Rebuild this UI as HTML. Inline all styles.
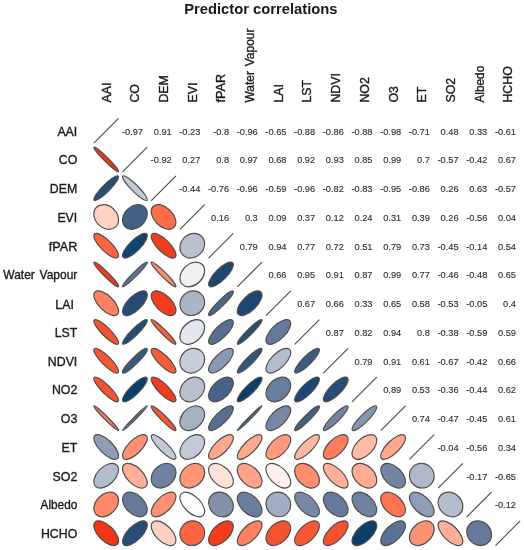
<!DOCTYPE html>
<html><head><meta charset="utf-8"><title>Predictor correlations</title>
<style>html,body{margin:0;padding:0;background:#fff}svg{display:block}text{font-family:"Liberation Sans",Arial,sans-serif;fill:#1a1a1a;stroke:#1a1a1a;stroke-width:0.35}svg{filter:blur(0.45px)}.n{text-anchor:end;font-size:9.25px;fill:#2e2e2e;stroke:#2e2e2e;stroke-width:0.12}</style></head><body>
<svg width="524" height="550" viewBox="0 0 524 550">
<rect width="524" height="550" fill="#fff"/>
<text x="260.85" y="14.20" text-anchor="middle" font-weight="bold" style="stroke-width:0" font-size="14.75">Predictor correlations</text>
<text x="77.31" y="135.60" text-anchor="end" font-size="12.35">AAI</text>
<text x="77.31" y="164.35" text-anchor="end" font-size="12.35">CO</text>
<text x="77.31" y="193.10" text-anchor="end" font-size="12.35">DEM</text>
<text x="77.31" y="221.85" text-anchor="end" font-size="12.35">EVI</text>
<text x="77.31" y="250.60" text-anchor="end" font-size="12.35" textLength="28.60" lengthAdjust="spacingAndGlyphs">fPAR</text>
<text x="77.31" y="278.75" text-anchor="end" font-size="12.35" textLength="74.00" lengthAdjust="spacingAndGlyphs" word-spacing="1.50">Water Vapour</text>
<text x="77.31" y="308.60" text-anchor="end" font-size="12.35">LAI&#160;</text>
<text x="77.31" y="336.85" text-anchor="end" font-size="12.35">LST</text>
<text x="77.31" y="365.60" text-anchor="end" font-size="12.35">NDVI</text>
<text x="77.31" y="394.35" text-anchor="end" font-size="12.35">NO2</text>
<text x="77.31" y="423.10" text-anchor="end" font-size="12.35">O3</text>
<text x="77.31" y="451.85" text-anchor="end" font-size="12.35">ET</text>
<text x="77.31" y="480.60" text-anchor="end" font-size="12.35">SO2</text>
<text x="77.31" y="509.35" text-anchor="end" font-size="12.35" textLength="36.80" lengthAdjust="spacingAndGlyphs">Albedo</text>
<text x="77.31" y="538.10" text-anchor="end" font-size="12.35">HCHO</text>
<text transform="translate(110.60 102.55) rotate(-90)" font-size="12.35">AAI</text>
<text transform="translate(139.29 102.55) rotate(-90)" font-size="12.35">CO</text>
<text transform="translate(167.98 102.55) rotate(-90)" font-size="12.35">DEM</text>
<text transform="translate(196.67 102.55) rotate(-90)" font-size="12.35">EVI</text>
<text transform="translate(225.36 102.55) rotate(-90)" font-size="12.35" textLength="28.60" lengthAdjust="spacingAndGlyphs">fPAR</text>
<text transform="translate(254.05 102.55) rotate(-90)" font-size="12.35" textLength="74.00" lengthAdjust="spacingAndGlyphs" word-spacing="1.50">Water Vapour</text>
<text transform="translate(282.74 102.55) rotate(-90)" font-size="12.35">LAI&#160;</text>
<text transform="translate(311.43 102.55) rotate(-90)" font-size="12.35">LST</text>
<text transform="translate(340.12 102.55) rotate(-90)" font-size="12.35">NDVI</text>
<text transform="translate(368.81 102.55) rotate(-90)" font-size="12.35">NO2</text>
<text transform="translate(397.50 102.55) rotate(-90)" font-size="12.35">O3</text>
<text transform="translate(426.19 102.55) rotate(-90)" font-size="12.35">ET</text>
<text transform="translate(454.88 102.55) rotate(-90)" font-size="12.35">SO2</text>
<text transform="translate(483.57 102.55) rotate(-90)" font-size="12.35" textLength="36.80" lengthAdjust="spacingAndGlyphs">Albedo</text>
<text transform="translate(512.26 102.55) rotate(-90)" font-size="12.35">HCHO</text>
<text class="n" x="143.01" y="134.60">-0.97</text>
<text class="n" x="171.70" y="134.60">0.91</text>
<text class="n" x="200.39" y="134.60">-0.23</text>
<text class="n" x="229.08" y="134.60">-0.8</text>
<text class="n" x="257.77" y="134.60">-0.96</text>
<text class="n" x="286.46" y="134.60">-0.65</text>
<text class="n" x="315.15" y="134.60">-0.88</text>
<text class="n" x="343.84" y="134.60">-0.86</text>
<text class="n" x="372.53" y="134.60">-0.88</text>
<text class="n" x="401.22" y="134.60">-0.98</text>
<text class="n" x="429.91" y="134.60">-0.71</text>
<text class="n" x="458.60" y="134.60">0.48</text>
<text class="n" x="487.29" y="134.60">0.33</text>
<text class="n" x="515.98" y="134.60">-0.61</text>
<text class="n" x="171.70" y="163.35">-0.92</text>
<text class="n" x="200.39" y="163.35">0.27</text>
<text class="n" x="229.08" y="163.35">0.8</text>
<text class="n" x="257.77" y="163.35">0.97</text>
<text class="n" x="286.46" y="163.35">0.68</text>
<text class="n" x="315.15" y="163.35">0.92</text>
<text class="n" x="343.84" y="163.35">0.93</text>
<text class="n" x="372.53" y="163.35">0.85</text>
<text class="n" x="401.22" y="163.35">0.99</text>
<text class="n" x="429.91" y="163.35">0.7</text>
<text class="n" x="458.60" y="163.35">-0.57</text>
<text class="n" x="487.29" y="163.35">-0.42</text>
<text class="n" x="515.98" y="163.35">0.67</text>
<text class="n" x="200.39" y="192.10">-0.44</text>
<text class="n" x="229.08" y="192.10">-0.76</text>
<text class="n" x="257.77" y="192.10">-0.96</text>
<text class="n" x="286.46" y="192.10">-0.59</text>
<text class="n" x="315.15" y="192.10">-0.96</text>
<text class="n" x="343.84" y="192.10">-0.82</text>
<text class="n" x="372.53" y="192.10">-0.83</text>
<text class="n" x="401.22" y="192.10">-0.95</text>
<text class="n" x="429.91" y="192.10">-0.86</text>
<text class="n" x="458.60" y="192.10">0.26</text>
<text class="n" x="487.29" y="192.10">0.63</text>
<text class="n" x="515.98" y="192.10">-0.57</text>
<text class="n" x="229.08" y="220.85">0.16</text>
<text class="n" x="257.77" y="220.85">0.3</text>
<text class="n" x="286.46" y="220.85">0.09</text>
<text class="n" x="315.15" y="220.85">0.37</text>
<text class="n" x="343.84" y="220.85">0.12</text>
<text class="n" x="372.53" y="220.85">0.24</text>
<text class="n" x="401.22" y="220.85">0.31</text>
<text class="n" x="429.91" y="220.85">0.39</text>
<text class="n" x="458.60" y="220.85">0.26</text>
<text class="n" x="487.29" y="220.85">-0.56</text>
<text class="n" x="515.98" y="220.85">0.04</text>
<text class="n" x="257.77" y="249.60">0.79</text>
<text class="n" x="286.46" y="249.60">0.94</text>
<text class="n" x="315.15" y="249.60">0.77</text>
<text class="n" x="343.84" y="249.60">0.72</text>
<text class="n" x="372.53" y="249.60">0.51</text>
<text class="n" x="401.22" y="249.60">0.79</text>
<text class="n" x="429.91" y="249.60">0.73</text>
<text class="n" x="458.60" y="249.60">-0.45</text>
<text class="n" x="487.29" y="249.60">-0.14</text>
<text class="n" x="515.98" y="249.60">0.54</text>
<text class="n" x="286.46" y="278.35">0.66</text>
<text class="n" x="315.15" y="278.35">0.95</text>
<text class="n" x="343.84" y="278.35">0.91</text>
<text class="n" x="372.53" y="278.35">0.87</text>
<text class="n" x="401.22" y="278.35">0.99</text>
<text class="n" x="429.91" y="278.35">0.77</text>
<text class="n" x="458.60" y="278.35">-0.46</text>
<text class="n" x="487.29" y="278.35">-0.48</text>
<text class="n" x="515.98" y="278.35">0.65</text>
<text class="n" x="315.15" y="307.10">0.67</text>
<text class="n" x="343.84" y="307.10">0.66</text>
<text class="n" x="372.53" y="307.10">0.33</text>
<text class="n" x="401.22" y="307.10">0.65</text>
<text class="n" x="429.91" y="307.10">0.58</text>
<text class="n" x="458.60" y="307.10">-0.53</text>
<text class="n" x="487.29" y="307.10">-0.05</text>
<text class="n" x="515.98" y="307.10">0.4</text>
<text class="n" x="343.84" y="335.85">0.87</text>
<text class="n" x="372.53" y="335.85">0.82</text>
<text class="n" x="401.22" y="335.85">0.94</text>
<text class="n" x="429.91" y="335.85">0.8</text>
<text class="n" x="458.60" y="335.85">-0.38</text>
<text class="n" x="487.29" y="335.85">-0.59</text>
<text class="n" x="515.98" y="335.85">0.59</text>
<text class="n" x="372.53" y="364.60">0.79</text>
<text class="n" x="401.22" y="364.60">0.91</text>
<text class="n" x="429.91" y="364.60">0.61</text>
<text class="n" x="458.60" y="364.60">-0.67</text>
<text class="n" x="487.29" y="364.60">-0.42</text>
<text class="n" x="515.98" y="364.60">0.66</text>
<text class="n" x="401.22" y="393.35">0.89</text>
<text class="n" x="429.91" y="393.35">0.53</text>
<text class="n" x="458.60" y="393.35">-0.36</text>
<text class="n" x="487.29" y="393.35">-0.44</text>
<text class="n" x="515.98" y="393.35">0.62</text>
<text class="n" x="429.91" y="422.10">0.74</text>
<text class="n" x="458.60" y="422.10">-0.47</text>
<text class="n" x="487.29" y="422.10">-0.45</text>
<text class="n" x="515.98" y="422.10">0.61</text>
<text class="n" x="458.60" y="450.85">-0.04</text>
<text class="n" x="487.29" y="450.85">-0.56</text>
<text class="n" x="515.98" y="450.85">0.34</text>
<text class="n" x="487.29" y="479.60">-0.17</text>
<text class="n" x="515.98" y="479.60">-0.65</text>
<text class="n" x="515.98" y="508.35">-0.12</text>
<line x1="93.85" y1="143.05" x2="118.55" y2="118.35" stroke="#4c4c4c" stroke-width="1.15"/>
<ellipse cx="106.20" cy="159.45" rx="2.14" ry="17.33" transform="rotate(-45 106.20 159.45)" fill="rgb(241,54,23)" stroke="#4c4c4c" stroke-width="1.15"/>
<line x1="122.54" y1="171.80" x2="147.24" y2="147.10" stroke="#4c4c4c" stroke-width="1.15"/>
<ellipse cx="106.20" cy="188.20" rx="17.07" ry="3.70" transform="rotate(-45 106.20 188.20)" fill="rgb(41,78,118)" stroke="#4c4c4c" stroke-width="1.15"/>
<ellipse cx="134.89" cy="188.20" rx="3.49" ry="17.11" transform="rotate(-45 134.89 188.20)" fill="rgb(194,202,215)" stroke="#4c4c4c" stroke-width="1.15"/>
<line x1="151.23" y1="200.55" x2="175.93" y2="175.85" stroke="#4c4c4c" stroke-width="1.15"/>
<ellipse cx="106.20" cy="216.95" rx="10.84" ry="13.70" transform="rotate(-45 106.20 216.95)" fill="rgb(255,209,194)" stroke="#4c4c4c" stroke-width="1.15"/>
<ellipse cx="134.89" cy="216.95" rx="13.92" ry="10.55" transform="rotate(-45 134.89 216.95)" fill="rgb(67,96,133)" stroke="#4c4c4c" stroke-width="1.15"/>
<ellipse cx="163.58" cy="216.95" rx="9.24" ry="14.82" transform="rotate(-45 163.58 216.95)" fill="rgb(254,109,74)" stroke="#4c4c4c" stroke-width="1.15"/>
<line x1="179.92" y1="229.30" x2="204.62" y2="204.60" stroke="#4c4c4c" stroke-width="1.15"/>
<ellipse cx="106.20" cy="245.70" rx="5.52" ry="16.57" transform="rotate(-45 106.20 245.70)" fill="rgb(252,100,66)" stroke="#4c4c4c" stroke-width="1.15"/>
<ellipse cx="134.89" cy="245.70" rx="16.57" ry="5.52" transform="rotate(-45 134.89 245.70)" fill="rgb(21,68,110)" stroke="#4c4c4c" stroke-width="1.15"/>
<ellipse cx="163.58" cy="245.70" rx="6.05" ry="16.38" transform="rotate(-45 163.58 245.70)" fill="rgb(242,60,28)" stroke="#4c4c4c" stroke-width="1.15"/>
<ellipse cx="192.27" cy="245.70" rx="13.30" ry="11.32" transform="rotate(-45 192.27 245.70)" fill="rgb(185,193,209)" stroke="#4c4c4c" stroke-width="1.15"/>
<line x1="208.61" y1="258.05" x2="233.31" y2="233.35" stroke="#4c4c4c" stroke-width="1.15"/>
<ellipse cx="106.20" cy="274.45" rx="2.47" ry="17.29" transform="rotate(-45 106.20 274.45)" fill="rgb(242,60,28)" stroke="#4c4c4c" stroke-width="1.15"/>
<ellipse cx="134.89" cy="274.45" rx="17.33" ry="2.14" transform="rotate(-45 134.89 274.45)" fill="rgb(96,118,151)" stroke="#4c4c4c" stroke-width="1.15"/>
<ellipse cx="163.58" cy="274.45" rx="2.47" ry="17.29" transform="rotate(-45 163.58 274.45)" fill="rgb(255,141,110)" stroke="#4c4c4c" stroke-width="1.15"/>
<ellipse cx="192.27" cy="274.45" rx="14.08" ry="10.33" transform="rotate(-45 192.27 274.45)" fill="rgb(238,240,244)" stroke="#4c4c4c" stroke-width="1.15"/>
<ellipse cx="220.96" cy="274.45" rx="16.52" ry="5.66" transform="rotate(-45 220.96 274.45)" fill="rgb(29,71,113)" stroke="#4c4c4c" stroke-width="1.15"/>
<line x1="237.30" y1="286.80" x2="262.00" y2="262.10" stroke="#4c4c4c" stroke-width="1.15"/>
<ellipse cx="106.20" cy="303.20" rx="7.31" ry="15.86" transform="rotate(-45 106.20 303.20)" fill="rgb(255,129,97)" stroke="#4c4c4c" stroke-width="1.15"/>
<ellipse cx="134.89" cy="303.20" rx="16.01" ry="6.99" transform="rotate(-45 134.89 303.20)" fill="rgb(35,75,115)" stroke="#4c4c4c" stroke-width="1.15"/>
<ellipse cx="163.58" cy="303.20" rx="7.91" ry="15.57" transform="rotate(-45 163.58 303.20)" fill="rgb(242,60,28)" stroke="#4c4c4c" stroke-width="1.15"/>
<ellipse cx="192.27" cy="303.20" rx="12.89" ry="11.78" transform="rotate(-45 192.27 303.20)" fill="rgb(171,181,199)" stroke="#4c4c4c" stroke-width="1.15"/>
<ellipse cx="220.96" cy="303.20" rx="17.20" ry="3.03" transform="rotate(-45 220.96 303.20)" fill="rgb(77,103,139)" stroke="#4c4c4c" stroke-width="1.15"/>
<ellipse cx="249.65" cy="303.20" rx="15.91" ry="7.20" transform="rotate(-45 249.65 303.20)" fill="rgb(29,71,113)" stroke="#4c4c4c" stroke-width="1.15"/>
<line x1="265.99" y1="315.55" x2="290.69" y2="290.85" stroke="#4c4c4c" stroke-width="1.15"/>
<ellipse cx="106.20" cy="331.95" rx="4.28" ry="16.93" transform="rotate(-45 106.20 331.95)" fill="rgb(247,82,48)" stroke="#4c4c4c" stroke-width="1.15"/>
<ellipse cx="134.89" cy="331.95" rx="17.11" ry="3.49" transform="rotate(-45 134.89 331.95)" fill="rgb(35,75,115)" stroke="#4c4c4c" stroke-width="1.15"/>
<ellipse cx="163.58" cy="331.95" rx="2.47" ry="17.29" transform="rotate(-45 163.58 331.95)" fill="rgb(251,96,61)" stroke="#4c4c4c" stroke-width="1.15"/>
<ellipse cx="192.27" cy="331.95" rx="14.45" ry="9.80" transform="rotate(-45 192.27 331.95)" fill="rgb(228,231,237)" stroke="#4c4c4c" stroke-width="1.15"/>
<ellipse cx="220.96" cy="331.95" rx="16.43" ry="5.92" transform="rotate(-45 220.96 331.95)" fill="rgb(87,110,145)" stroke="#4c4c4c" stroke-width="1.15"/>
<ellipse cx="249.65" cy="331.95" rx="17.25" ry="2.76" transform="rotate(-45 249.65 331.95)" fill="rgb(41,78,118)" stroke="#4c4c4c" stroke-width="1.15"/>
<ellipse cx="278.34" cy="331.95" rx="15.96" ry="7.09" transform="rotate(-45 278.34 331.95)" fill="rgb(101,122,154)" stroke="#4c4c4c" stroke-width="1.15"/>
<line x1="294.68" y1="344.30" x2="319.38" y2="319.60" stroke="#4c4c4c" stroke-width="1.15"/>
<ellipse cx="106.20" cy="360.70" rx="4.62" ry="16.84" transform="rotate(-45 106.20 360.70)" fill="rgb(249,87,52)" stroke="#4c4c4c" stroke-width="1.15"/>
<ellipse cx="134.89" cy="360.70" rx="17.16" ry="3.27" transform="rotate(-45 134.89 360.70)" fill="rgb(57,89,127)" stroke="#4c4c4c" stroke-width="1.15"/>
<ellipse cx="163.58" cy="360.70" rx="5.24" ry="16.66" transform="rotate(-45 163.58 360.70)" fill="rgb(250,91,57)" stroke="#4c4c4c" stroke-width="1.15"/>
<ellipse cx="192.27" cy="360.70" rx="13.07" ry="11.58" transform="rotate(-45 192.27 360.70)" fill="rgb(199,206,218)" stroke="#4c4c4c" stroke-width="1.15"/>
<ellipse cx="220.96" cy="360.70" rx="16.20" ry="6.53" transform="rotate(-45 220.96 360.70)" fill="rgb(138,153,178)" stroke="#4c4c4c" stroke-width="1.15"/>
<ellipse cx="249.65" cy="360.70" rx="17.07" ry="3.70" transform="rotate(-45 249.65 360.70)" fill="rgb(52,85,124)" stroke="#4c4c4c" stroke-width="1.15"/>
<ellipse cx="278.34" cy="360.70" rx="15.91" ry="7.20" transform="rotate(-45 278.34 360.70)" fill="rgb(180,189,206)" stroke="#4c4c4c" stroke-width="1.15"/>
<ellipse cx="307.03" cy="360.70" rx="16.89" ry="4.45" transform="rotate(-45 307.03 360.70)" fill="rgb(63,92,130)" stroke="#4c4c4c" stroke-width="1.15"/>
<line x1="323.37" y1="373.05" x2="348.07" y2="348.35" stroke="#4c4c4c" stroke-width="1.15"/>
<ellipse cx="106.20" cy="389.45" rx="4.28" ry="16.93" transform="rotate(-45 106.20 389.45)" fill="rgb(247,82,48)" stroke="#4c4c4c" stroke-width="1.15"/>
<ellipse cx="134.89" cy="389.45" rx="16.80" ry="4.78" transform="rotate(-45 134.89 389.45)" fill="rgb(12,64,107)" stroke="#4c4c4c" stroke-width="1.15"/>
<ellipse cx="163.58" cy="389.45" rx="5.09" ry="16.71" transform="rotate(-45 163.58 389.45)" fill="rgb(242,60,28)" stroke="#4c4c4c" stroke-width="1.15"/>
<ellipse cx="192.27" cy="389.45" rx="13.75" ry="10.77" transform="rotate(-45 192.27 389.45)" fill="rgb(185,193,209)" stroke="#4c4c4c" stroke-width="1.15"/>
<ellipse cx="220.96" cy="389.45" rx="15.18" ry="8.64" transform="rotate(-45 220.96 389.45)" fill="rgb(72,99,136)" stroke="#4c4c4c" stroke-width="1.15"/>
<ellipse cx="249.65" cy="389.45" rx="16.89" ry="4.45" transform="rotate(-45 249.65 389.45)" fill="rgb(12,64,107)" stroke="#4c4c4c" stroke-width="1.15"/>
<ellipse cx="278.34" cy="389.45" rx="14.24" ry="10.11" transform="rotate(-45 278.34 389.45)" fill="rgb(105,126,157)" stroke="#4c4c4c" stroke-width="1.15"/>
<ellipse cx="307.03" cy="389.45" rx="16.66" ry="5.24" transform="rotate(-45 307.03 389.45)" fill="rgb(29,71,113)" stroke="#4c4c4c" stroke-width="1.15"/>
<ellipse cx="335.72" cy="389.45" rx="16.52" ry="5.66" transform="rotate(-45 335.72 389.45)" fill="rgb(41,78,118)" stroke="#4c4c4c" stroke-width="1.15"/>
<line x1="352.06" y1="401.80" x2="376.76" y2="377.10" stroke="#4c4c4c" stroke-width="1.15"/>
<ellipse cx="106.20" cy="418.20" rx="1.75" ry="17.38" transform="rotate(-45 106.20 418.20)" fill="rgb(255,117,83)" stroke="#4c4c4c" stroke-width="1.15"/>
<ellipse cx="134.89" cy="418.20" rx="17.42" ry="1.23" transform="rotate(-45 134.89 418.20)" fill="rgb(91,114,148)" stroke="#4c4c4c" stroke-width="1.15"/>
<ellipse cx="163.58" cy="418.20" rx="2.76" ry="17.25" transform="rotate(-45 163.58 418.20)" fill="rgb(249,87,52)" stroke="#4c4c4c" stroke-width="1.15"/>
<ellipse cx="192.27" cy="418.20" rx="14.13" ry="10.26" transform="rotate(-45 192.27 418.20)" fill="rgb(166,177,196)" stroke="#4c4c4c" stroke-width="1.15"/>
<ellipse cx="220.96" cy="418.20" rx="16.52" ry="5.66" transform="rotate(-45 220.96 418.20)" fill="rgb(87,110,145)" stroke="#4c4c4c" stroke-width="1.15"/>
<ellipse cx="249.65" cy="418.20" rx="17.42" ry="1.23" transform="rotate(-45 249.65 418.20)" fill="rgb(77,103,139)" stroke="#4c4c4c" stroke-width="1.15"/>
<ellipse cx="278.34" cy="418.20" rx="15.86" ry="7.31" transform="rotate(-45 278.34 418.20)" fill="rgb(119,137,166)" stroke="#4c4c4c" stroke-width="1.15"/>
<ellipse cx="307.03" cy="418.20" rx="17.20" ry="3.03" transform="rotate(-45 307.03 418.20)" fill="rgb(67,96,133)" stroke="#4c4c4c" stroke-width="1.15"/>
<ellipse cx="335.72" cy="418.20" rx="17.07" ry="3.70" transform="rotate(-45 335.72 418.20)" fill="rgb(115,133,163)" stroke="#4c4c4c" stroke-width="1.15"/>
<ellipse cx="364.41" cy="418.20" rx="16.98" ry="4.10" transform="rotate(-45 364.41 418.20)" fill="rgb(133,149,175)" stroke="#4c4c4c" stroke-width="1.15"/>
<line x1="380.75" y1="430.55" x2="405.45" y2="405.85" stroke="#4c4c4c" stroke-width="1.15"/>
<ellipse cx="106.20" cy="446.95" rx="6.65" ry="16.15" transform="rotate(-45 106.20 446.95)" fill="rgb(143,157,181)" stroke="#4c4c4c" stroke-width="1.15"/>
<ellipse cx="134.89" cy="446.95" rx="16.10" ry="6.76" transform="rotate(-45 134.89 446.95)" fill="rgb(255,145,115)" stroke="#4c4c4c" stroke-width="1.15"/>
<ellipse cx="163.58" cy="446.95" rx="4.62" ry="16.84" transform="rotate(-45 163.58 446.95)" fill="rgb(194,202,215)" stroke="#4c4c4c" stroke-width="1.15"/>
<ellipse cx="192.27" cy="446.95" rx="14.56" ry="9.65" transform="rotate(-45 192.27 446.95)" fill="rgb(194,202,215)" stroke="#4c4c4c" stroke-width="1.15"/>
<ellipse cx="220.96" cy="446.95" rx="16.24" ry="6.42" transform="rotate(-45 220.96 446.95)" fill="rgb(255,168,142)" stroke="#4c4c4c" stroke-width="1.15"/>
<ellipse cx="249.65" cy="446.95" rx="16.43" ry="5.92" transform="rotate(-45 249.65 446.95)" fill="rgb(255,168,142)" stroke="#4c4c4c" stroke-width="1.15"/>
<ellipse cx="278.34" cy="446.95" rx="15.52" ry="8.00" transform="rotate(-45 278.34 446.95)" fill="rgb(255,153,124)" stroke="#4c4c4c" stroke-width="1.15"/>
<ellipse cx="307.03" cy="446.95" rx="16.57" ry="5.52" transform="rotate(-45 307.03 446.95)" fill="rgb(255,183,160)" stroke="#4c4c4c" stroke-width="1.15"/>
<ellipse cx="335.72" cy="446.95" rx="15.67" ry="7.71" transform="rotate(-45 335.72 446.95)" fill="rgb(255,125,92)" stroke="#4c4c4c" stroke-width="1.15"/>
<ellipse cx="364.41" cy="446.95" rx="15.28" ry="8.47" transform="rotate(-45 364.41 446.95)" fill="rgb(255,187,165)" stroke="#4c4c4c" stroke-width="1.15"/>
<ellipse cx="393.10" cy="446.95" rx="16.29" ry="6.30" transform="rotate(-45 393.10 446.95)" fill="rgb(255,168,142)" stroke="#4c4c4c" stroke-width="1.15"/>
<line x1="409.44" y1="459.30" x2="434.14" y2="434.60" stroke="#4c4c4c" stroke-width="1.15"/>
<ellipse cx="106.20" cy="475.70" rx="15.02" ry="8.91" transform="rotate(-45 106.20 475.70)" fill="rgb(180,189,206)" stroke="#4c4c4c" stroke-width="1.15"/>
<ellipse cx="134.89" cy="475.70" rx="8.10" ry="15.47" transform="rotate(-45 134.89 475.70)" fill="rgb(255,176,151)" stroke="#4c4c4c" stroke-width="1.15"/>
<ellipse cx="163.58" cy="475.70" rx="13.86" ry="10.62" transform="rotate(-45 163.58 475.70)" fill="rgb(110,129,160)" stroke="#4c4c4c" stroke-width="1.15"/>
<ellipse cx="192.27" cy="475.70" rx="13.86" ry="10.62" transform="rotate(-45 192.27 475.70)" fill="rgb(255,149,119)" stroke="#4c4c4c" stroke-width="1.15"/>
<ellipse cx="220.96" cy="475.70" rx="9.16" ry="14.87" transform="rotate(-45 220.96 475.70)" fill="rgb(255,227,218)" stroke="#4c4c4c" stroke-width="1.15"/>
<ellipse cx="249.65" cy="475.70" rx="9.08" ry="14.92" transform="rotate(-45 249.65 475.70)" fill="rgb(255,164,137)" stroke="#4c4c4c" stroke-width="1.15"/>
<ellipse cx="278.34" cy="475.70" rx="8.47" ry="15.28" transform="rotate(-45 278.34 475.70)" fill="rgb(255,242,238)" stroke="#4c4c4c" stroke-width="1.15"/>
<ellipse cx="307.03" cy="475.70" rx="9.72" ry="14.51" transform="rotate(-45 307.03 475.70)" fill="rgb(255,141,110)" stroke="#4c4c4c" stroke-width="1.15"/>
<ellipse cx="335.72" cy="475.70" rx="7.09" ry="15.96" transform="rotate(-45 335.72 475.70)" fill="rgb(255,176,151)" stroke="#4c4c4c" stroke-width="1.15"/>
<ellipse cx="364.41" cy="475.70" rx="9.88" ry="14.40" transform="rotate(-45 364.41 475.70)" fill="rgb(255,172,147)" stroke="#4c4c4c" stroke-width="1.15"/>
<ellipse cx="393.10" cy="475.70" rx="8.99" ry="14.97" transform="rotate(-45 393.10 475.70)" fill="rgb(115,133,163)" stroke="#4c4c4c" stroke-width="1.15"/>
<ellipse cx="421.79" cy="475.70" rx="12.10" ry="12.59" transform="rotate(-45 421.79 475.70)" fill="rgb(175,185,203)" stroke="#4c4c4c" stroke-width="1.15"/>
<line x1="438.13" y1="488.05" x2="462.83" y2="463.35" stroke="#4c4c4c" stroke-width="1.15"/>
<ellipse cx="106.20" cy="504.45" rx="14.24" ry="10.11" transform="rotate(-45 106.20 504.45)" fill="rgb(255,137,106)" stroke="#4c4c4c" stroke-width="1.15"/>
<ellipse cx="134.89" cy="504.45" rx="9.41" ry="14.72" transform="rotate(-45 134.89 504.45)" fill="rgb(101,122,154)" stroke="#4c4c4c" stroke-width="1.15"/>
<ellipse cx="163.58" cy="504.45" rx="15.77" ry="7.51" transform="rotate(-45 163.58 504.45)" fill="rgb(255,145,115)" stroke="#4c4c4c" stroke-width="1.15"/>
<ellipse cx="192.27" cy="504.45" rx="8.19" ry="15.42" transform="rotate(-45 192.27 504.45)" fill="rgb(253,253,253)" stroke="#4c4c4c" stroke-width="1.15"/>
<ellipse cx="220.96" cy="504.45" rx="11.45" ry="13.19" transform="rotate(-45 220.96 504.45)" fill="rgb(129,145,172)" stroke="#4c4c4c" stroke-width="1.15"/>
<ellipse cx="249.65" cy="504.45" rx="8.91" ry="15.02" transform="rotate(-45 249.65 504.45)" fill="rgb(105,126,157)" stroke="#4c4c4c" stroke-width="1.15"/>
<ellipse cx="278.34" cy="504.45" rx="12.04" ry="12.65" transform="rotate(-45 278.34 504.45)" fill="rgb(161,173,193)" stroke="#4c4c4c" stroke-width="1.15"/>
<ellipse cx="307.03" cy="504.45" rx="7.91" ry="15.57" transform="rotate(-45 307.03 504.45)" fill="rgb(119,137,166)" stroke="#4c4c4c" stroke-width="1.15"/>
<ellipse cx="335.72" cy="504.45" rx="9.41" ry="14.72" transform="rotate(-45 335.72 504.45)" fill="rgb(101,122,154)" stroke="#4c4c4c" stroke-width="1.15"/>
<ellipse cx="364.41" cy="504.45" rx="9.24" ry="14.82" transform="rotate(-45 364.41 504.45)" fill="rgb(110,129,160)" stroke="#4c4c4c" stroke-width="1.15"/>
<ellipse cx="393.10" cy="504.45" rx="9.16" ry="14.87" transform="rotate(-45 393.10 504.45)" fill="rgb(255,117,83)" stroke="#4c4c4c" stroke-width="1.15"/>
<ellipse cx="421.79" cy="504.45" rx="8.19" ry="15.42" transform="rotate(-45 421.79 504.45)" fill="rgb(143,157,181)" stroke="#4c4c4c" stroke-width="1.15"/>
<ellipse cx="450.48" cy="504.45" rx="11.25" ry="13.36" transform="rotate(-45 450.48 504.45)" fill="rgb(180,189,206)" stroke="#4c4c4c" stroke-width="1.15"/>
<line x1="466.82" y1="516.80" x2="491.52" y2="492.10" stroke="#4c4c4c" stroke-width="1.15"/>
<ellipse cx="106.20" cy="533.20" rx="7.71" ry="15.67" transform="rotate(-45 106.20 533.20)" fill="rgb(241,54,23)" stroke="#4c4c4c" stroke-width="1.15"/>
<ellipse cx="134.89" cy="533.20" rx="15.96" ry="7.09" transform="rotate(-45 134.89 533.20)" fill="rgb(41,78,118)" stroke="#4c4c4c" stroke-width="1.15"/>
<ellipse cx="163.58" cy="533.20" rx="8.10" ry="15.47" transform="rotate(-45 163.58 533.20)" fill="rgb(255,209,194)" stroke="#4c4c4c" stroke-width="1.15"/>
<ellipse cx="192.27" cy="533.20" rx="12.59" ry="12.10" transform="rotate(-45 192.27 533.20)" fill="rgb(252,100,66)" stroke="#4c4c4c" stroke-width="1.15"/>
<ellipse cx="220.96" cy="533.20" rx="15.33" ry="8.38" transform="rotate(-45 220.96 533.20)" fill="rgb(242,60,28)" stroke="#4c4c4c" stroke-width="1.15"/>
<ellipse cx="249.65" cy="533.20" rx="15.86" ry="7.31" transform="rotate(-45 249.65 533.20)" fill="rgb(255,129,97)" stroke="#4c4c4c" stroke-width="1.15"/>
<ellipse cx="278.34" cy="533.20" rx="14.61" ry="9.57" transform="rotate(-45 278.34 533.20)" fill="rgb(247,82,48)" stroke="#4c4c4c" stroke-width="1.15"/>
<ellipse cx="307.03" cy="533.20" rx="15.57" ry="7.91" transform="rotate(-45 307.03 533.20)" fill="rgb(249,87,52)" stroke="#4c4c4c" stroke-width="1.15"/>
<ellipse cx="335.72" cy="533.20" rx="15.91" ry="7.20" transform="rotate(-45 335.72 533.20)" fill="rgb(247,82,48)" stroke="#4c4c4c" stroke-width="1.15"/>
<ellipse cx="364.41" cy="533.20" rx="15.72" ry="7.61" transform="rotate(-45 364.41 533.20)" fill="rgb(12,64,107)" stroke="#4c4c4c" stroke-width="1.15"/>
<ellipse cx="393.10" cy="533.20" rx="15.67" ry="7.71" transform="rotate(-45 393.10 533.20)" fill="rgb(91,114,148)" stroke="#4c4c4c" stroke-width="1.15"/>
<ellipse cx="421.79" cy="533.20" rx="14.30" ry="10.03" transform="rotate(-45 421.79 533.20)" fill="rgb(255,145,115)" stroke="#4c4c4c" stroke-width="1.15"/>
<ellipse cx="450.48" cy="533.20" rx="7.31" ry="15.86" transform="rotate(-45 450.48 533.20)" fill="rgb(255,176,151)" stroke="#4c4c4c" stroke-width="1.15"/>
<ellipse cx="479.17" cy="533.20" rx="11.58" ry="13.07" transform="rotate(-45 479.17 533.20)" fill="rgb(101,122,154)" stroke="#4c4c4c" stroke-width="1.15"/>
<line x1="495.51" y1="545.55" x2="520.21" y2="520.85" stroke="#4c4c4c" stroke-width="1.15"/>
</svg></body></html>
